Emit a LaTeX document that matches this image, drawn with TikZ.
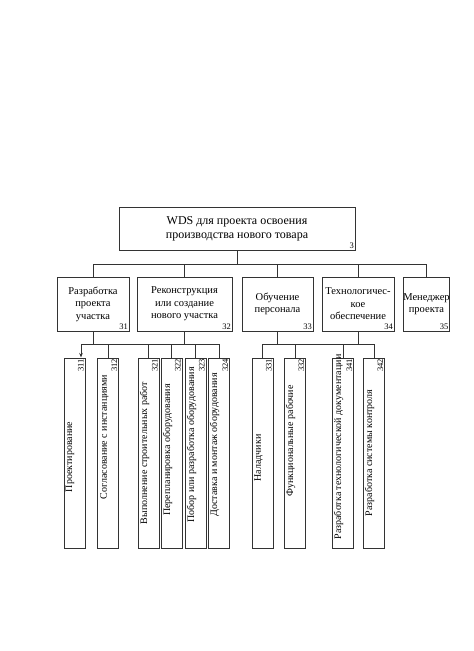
\documentclass[tikz,border=0pt]{standalone}
\usepackage{fontspec}
\setmainfont{Liberation Serif}
\usetikzlibrary{arrows.meta}
\definecolor{LineGray}{HTML}{333333}

\begin{document}
\begin{tikzpicture}[x=1pt,y=-1pt,
  box/.style={draw=LineGray, line width=1pt, inner sep=0pt, align=center},
  topbox/.style={box, minimum width=236pt, minimum height=43pt, font=\fontsize{12}{14}\selectfont},
  midbox/.style={box, minimum height=54pt, font=\fontsize{10.5}{12.5}\selectfont},
  leafbox/.style={box, minimum width=21pt, minimum height=190pt},
  leaftext/.style={rotate=90, inner sep=0pt, font=\fontsize{10}{12}\selectfont},
  boxnum/.style={inner sep=1.5pt, font=\fontsize{8.5}{10}\selectfont},
  link/.style={draw=LineGray, line width=1pt}]
  \useasboundingbox (0,0) rectangle (474,651);

  % top
  \node[topbox] (top) at (237,228.5) {WDS для проекта освоения\\производства нового товара};
  \node[boxnum, anchor=south east] (n3) at (top.south east) {3};

  % second level
  \node[midbox, minimum width=72pt] (b31) at (93,304) {Разработка\\проекта\\участка};
  \node[midbox, minimum width=95pt] (b32) at (184.5,304) {Реконструкция\\или создание\\нового участка};
  \node[midbox, minimum width=71pt] (b33) at (277.5,304) {Обучение\\персонала};
  \node[midbox, minimum width=72pt] (b34) at (358,304) {Технологичес-\\кое\\обеспечение};
  \node[midbox, minimum width=46pt] (b35) at (426.5,304) {Менеджер\\проекта};
  \node[boxnum, anchor=south east] (n31) at (b31.south east) {31};
  \node[boxnum, anchor=south east] (n32) at (b32.south east) {32};
  \node[boxnum, anchor=south east] (n33) at (b33.south east) {33};
  \node[boxnum, anchor=south east] (n34) at (b34.south east) {34};
  \node[boxnum, anchor=south east] (n35) at (b35.south east) {35};

  % third level
  \node[leafbox] (l311) at (74.5,453) {};
  \node[leafbox] (l312) at (108,453) {};
  \node[leafbox] (l321) at (148.5,453) {};
  \node[leafbox] (l322) at (171.5,453) {};
  \node[leafbox] (l323) at (195.5,453) {};
  \node[leafbox] (l324) at (219,453) {};
  \node[leafbox] (l331) at (262.5,453) {};
  \node[leafbox] (l332) at (295,453) {};
  \node[leafbox] (l341) at (343,453) {};
  \node[leafbox] (l342) at (374,453) {};

  \node[leaftext] (t311) at (70,457) {Проектирование};
  \node[leaftext] (t312) at (104.5,437) {Согласование с инстанциями};
  \node[leaftext] (t321) at (144.5,453) {Выполнение строительных работ};
  \node[leaftext] (t322) at (167.5,450) {Перепланировка оборудования};
  \node[leaftext] (t323) at (191.5,445) {Побор или разработка оборудования};
  \node[leaftext] (t324) at (214.5,445) {Доставка и монтаж оборудования};
  \node[leaftext] (t331) at (258.5,458) {Наладчики};
  \node[leaftext] (t332) at (290.5,441) {Функциональные рабочие};
  \node[leaftext] (t341) at (338.5,447) {Разработка технологической документации};
  \node[leaftext] (t342) at (369.5,453) {Разработка системы контроля};

  \node[boxnum, rotate=90, anchor=south east] (n311) at (l311.north east) {311};
  \node[boxnum, rotate=90, anchor=south east] (n312) at (l312.north east) {312};
  \node[boxnum, rotate=90, anchor=south east] (n321) at (l321.north east) {321};
  \node[boxnum, rotate=90, anchor=south east] (n322) at (l322.north east) {322};
  \node[boxnum, rotate=90, anchor=south east] (n323) at (l323.north east) {323};
  \node[boxnum, rotate=90, anchor=south east] (n324) at (l324.north east) {324};
  \node[boxnum, rotate=90, anchor=south east] (n331) at (l331.north east) {331};
  \node[boxnum, rotate=90, anchor=south east] (n332) at (l332.north east) {332};
  \node[boxnum, rotate=90, anchor=south east] (n341) at (l341.north east) {341};
  \node[boxnum, rotate=90, anchor=south east] (n342) at (l342.north east) {342};

  % links top -> second level
  \coordinate (busA) at (0,264);
  \draw[link] (top.south) -- (top.south |- busA);
  \draw[link] (b31.north) -- (b31.north |- busA) -| (b35.north);
  \foreach \b in {b32,b33,b34}
    \draw[link] (\b.north) -- (\b.north |- busA);

  % links second -> third level
  \coordinate (busB) at (0,344);
  \coordinate (in311) at ([xshift=6.5pt]l311.north);
  \draw[link] (b31.south) -- (b31.south |- busB);
  \draw[link] (b32.south) -- (b32.south |- busB);
  \draw[link, -{Stealth[length=4.5pt,width=3.5pt]}] (in311 |- busB) -- (in311);
  \draw[link] (in311 |- busB) -| (l324.north);
  \foreach \l in {l312,l321,l322,l323}
    \draw[link] (\l.north) -- (\l.north |- busB);

  \draw[link] (b33.south) -- (b33.south |- busB);
  \draw[link] (b34.south) -- (b34.south |- busB);
  \draw[link] (l331.north) -- (l331.north |- busB) -| (l342.north);
  \foreach \l in {l332,l341}
    \draw[link] (\l.north) -- (\l.north |- busB);
\end{tikzpicture}
\end{document}
